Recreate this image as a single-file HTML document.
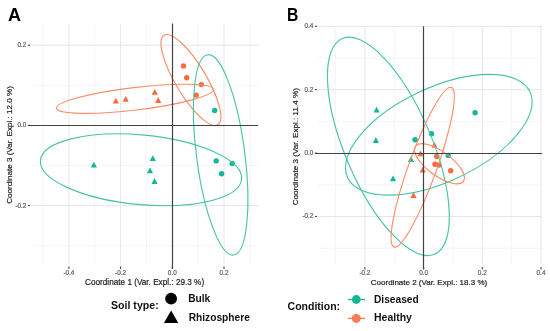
<!DOCTYPE html>
<html><head><meta charset="utf-8"><style>
html,body{margin:0;padding:0;background:#fff;width:550px;height:331px;overflow:hidden}
svg{display:block;filter:blur(0.45px)}
text{font-family:"Liberation Sans",sans-serif}
.tk{font-size:6.4px;fill:#606060;stroke:#606060;stroke-width:0.2px}
.ax{font-size:8.2px;fill:#222;stroke:#222;stroke-width:0.2px}
.pl{font-size:18px;font-weight:bold;fill:#000}
.lg{font-size:10.2px;font-weight:bold;fill:#111}
</style></head><body>
<svg width="550" height="331" viewBox="0 0 550 331">
<line x1="43.05" y1="23.5" x2="43.05" y2="264.5" stroke="#F5F5F5" stroke-width="1"/>
<line x1="94.75" y1="23.5" x2="94.75" y2="264.5" stroke="#F5F5F5" stroke-width="1"/>
<line x1="146.45" y1="23.5" x2="146.45" y2="264.5" stroke="#F5F5F5" stroke-width="1"/>
<line x1="198.15" y1="23.5" x2="198.15" y2="264.5" stroke="#F5F5F5" stroke-width="1"/>
<line x1="249.85" y1="23.5" x2="249.85" y2="264.5" stroke="#F5F5F5" stroke-width="1"/>
<line x1="31" y1="85.30" x2="258" y2="85.30" stroke="#F5F5F5" stroke-width="1"/>
<line x1="31" y1="165.50" x2="258" y2="165.50" stroke="#F5F5F5" stroke-width="1"/>
<line x1="31" y1="245.70" x2="258" y2="245.70" stroke="#F5F5F5" stroke-width="1"/>
<line x1="68.90" y1="23.5" x2="68.90" y2="264.5" stroke="#E6E6E6" stroke-width="1"/>
<line x1="120.60" y1="23.5" x2="120.60" y2="264.5" stroke="#E6E6E6" stroke-width="1"/>
<line x1="224.00" y1="23.5" x2="224.00" y2="264.5" stroke="#E6E6E6" stroke-width="1"/>
<line x1="31" y1="45.20" x2="258" y2="45.20" stroke="#E6E6E6" stroke-width="1"/>
<line x1="31" y1="205.60" x2="258" y2="205.60" stroke="#E6E6E6" stroke-width="1"/>
<line x1="335.55" y1="26.3" x2="335.55" y2="265" stroke="#F5F5F5" stroke-width="1"/>
<line x1="394.25" y1="26.3" x2="394.25" y2="265" stroke="#F5F5F5" stroke-width="1"/>
<line x1="452.95" y1="26.3" x2="452.95" y2="265" stroke="#F5F5F5" stroke-width="1"/>
<line x1="511.65" y1="26.3" x2="511.65" y2="265" stroke="#F5F5F5" stroke-width="1"/>
<line x1="318" y1="58.00" x2="542" y2="58.00" stroke="#F5F5F5" stroke-width="1"/>
<line x1="318" y1="121.40" x2="542" y2="121.40" stroke="#F5F5F5" stroke-width="1"/>
<line x1="318" y1="184.80" x2="542" y2="184.80" stroke="#F5F5F5" stroke-width="1"/>
<line x1="318" y1="248.20" x2="542" y2="248.20" stroke="#F5F5F5" stroke-width="1"/>
<line x1="364.90" y1="26.3" x2="364.90" y2="265" stroke="#E6E6E6" stroke-width="1"/>
<line x1="482.30" y1="26.3" x2="482.30" y2="265" stroke="#E6E6E6" stroke-width="1"/>
<line x1="541.00" y1="26.3" x2="541.00" y2="265" stroke="#E6E6E6" stroke-width="1"/>
<line x1="318" y1="26.30" x2="542" y2="26.30" stroke="#E6E6E6" stroke-width="1"/>
<line x1="318" y1="89.70" x2="542" y2="89.70" stroke="#E6E6E6" stroke-width="1"/>
<line x1="318" y1="216.50" x2="542" y2="216.50" stroke="#E6E6E6" stroke-width="1"/>
<path d="M115.80 97.70L118.90 103.50L112.70 103.50Z" fill="#FA6A3E"/>
<path d="M125.70 95.90L128.80 101.70L122.60 101.70Z" fill="#FA6A3E"/>
<path d="M154.80 88.90L157.90 94.70L151.70 94.70Z" fill="#FA6A3E"/>
<path d="M158.20 97.10L161.30 102.90L155.10 102.90Z" fill="#FA6A3E"/>
<circle cx="183.50" cy="66.00" r="2.7" fill="#FA6A3E"/>
<circle cx="186.70" cy="77.70" r="2.7" fill="#FA6A3E"/>
<circle cx="201.30" cy="84.60" r="2.7" fill="#FA6A3E"/>
<circle cx="196.20" cy="95.10" r="2.7" fill="#FA6A3E"/>
<circle cx="214.70" cy="110.50" r="2.7" fill="#12B894"/>
<circle cx="216.20" cy="160.90" r="2.7" fill="#12B894"/>
<circle cx="232.20" cy="163.50" r="2.7" fill="#12B894"/>
<circle cx="221.60" cy="173.80" r="2.7" fill="#12B894"/>
<path d="M93.90 161.70L97.00 167.50L90.80 167.50Z" fill="#12B894"/>
<path d="M152.80 155.20L155.90 161.00L149.70 161.00Z" fill="#12B894"/>
<path d="M150.00 167.50L153.10 173.30L146.90 173.30Z" fill="#12B894"/>
<path d="M154.50 178.10L157.60 183.90L151.40 183.90Z" fill="#12B894"/>
<circle cx="431.50" cy="133.70" r="2.7" fill="#12B894"/>
<circle cx="415.00" cy="139.80" r="2.7" fill="#12B894"/>
<circle cx="448.20" cy="155.50" r="2.7" fill="#12B894"/>
<circle cx="475.10" cy="112.80" r="2.7" fill="#12B894"/>
<path d="M376.60 106.80L379.70 112.60L373.50 112.60Z" fill="#12B894"/>
<path d="M375.90 137.10L379.00 142.90L372.80 142.90Z" fill="#12B894"/>
<path d="M411.00 156.10L414.10 161.90L407.90 161.90Z" fill="#12B894"/>
<path d="M393.00 175.40L396.10 181.20L389.90 181.20Z" fill="#12B894"/>
<circle cx="436.80" cy="156.50" r="2.7" fill="#FA6A3E"/>
<circle cx="435.00" cy="164.30" r="2.7" fill="#FA6A3E"/>
<circle cx="439.00" cy="165.00" r="2.7" fill="#FA6A3E"/>
<circle cx="450.70" cy="170.70" r="2.7" fill="#FA6A3E"/>
<path d="M434.50 141.90L437.60 147.70L431.40 147.70Z" fill="#FA6A3E"/>
<path d="M420.50 150.50L423.60 156.30L417.40 156.30Z" fill="#FA6A3E"/>
<path d="M422.70 166.70L425.80 172.50L419.60 172.50Z" fill="#FA6A3E"/>
<path d="M413.50 192.10L416.60 197.90L410.40 197.90Z" fill="#FA6A3E"/>
<ellipse cx="0" cy="0" rx="11.24" ry="79.04" transform="translate(134.89 98.80) rotate(83.20)" fill="none" stroke="#F98D69" stroke-width="1.15"/>
<ellipse cx="0" cy="0" rx="52.25" ry="15.34" transform="translate(190.91 80.04) rotate(59.05)" fill="none" stroke="#F98D69" stroke-width="1.15"/>
<ellipse cx="0" cy="0" rx="24.17" ry="100.98" transform="translate(220.67 154.89) rotate(-7.39)" fill="none" stroke="#48C4A6" stroke-width="1.15"/>
<ellipse cx="0" cy="0" rx="101.01" ry="34.79" transform="translate(141.02 169.79) rotate(5.36)" fill="none" stroke="#48C4A6" stroke-width="1.15"/>
<ellipse cx="0" cy="0" rx="43.38" ry="117.33" transform="translate(388.38 146.38) rotate(-23.11)" fill="none" stroke="#48C4A6" stroke-width="1.15"/>
<ellipse cx="0" cy="0" rx="100.76" ry="46.91" transform="translate(438.82 134.76) rotate(-25.22)" fill="none" stroke="#48C4A6" stroke-width="1.15"/>
<ellipse cx="0" cy="0" rx="84.76" ry="14.02" transform="translate(422.70 167.16) rotate(-70.21)" fill="none" stroke="#F98D69" stroke-width="1.15"/>
<ellipse cx="0" cy="0" rx="11.96" ry="29.69" transform="translate(439.49 163.79) rotate(-53.72)" fill="none" stroke="#F98D69" stroke-width="1.15"/>
<line x1="68.90" y1="266.5" x2="68.90" y2="268.9" stroke="#444" stroke-width="1.1"/>
<text x="68.90" y="274.9" text-anchor="middle" class="tk">-0.4</text>
<line x1="120.60" y1="266.5" x2="120.60" y2="268.9" stroke="#444" stroke-width="1.1"/>
<text x="120.60" y="274.9" text-anchor="middle" class="tk">-0.2</text>
<line x1="172.30" y1="266.5" x2="172.30" y2="268.9" stroke="#444" stroke-width="1.1"/>
<text x="172.30" y="274.9" text-anchor="middle" class="tk">0.0</text>
<line x1="224.00" y1="266.5" x2="224.00" y2="268.9" stroke="#444" stroke-width="1.1"/>
<text x="224.00" y="274.9" text-anchor="middle" class="tk">0.2</text>
<line x1="27.9" y1="45.20" x2="30.1" y2="45.20" stroke="#444" stroke-width="1.1"/>
<text x="26.4" y="47.10" text-anchor="end" class="tk">0.2</text>
<line x1="27.9" y1="125.40" x2="30.1" y2="125.40" stroke="#444" stroke-width="1.1"/>
<text x="26.4" y="127.30" text-anchor="end" class="tk">0.0</text>
<line x1="27.9" y1="205.60" x2="30.1" y2="205.60" stroke="#444" stroke-width="1.1"/>
<text x="26.4" y="207.50" text-anchor="end" class="tk">-0.2</text>
<line x1="172.5" y1="23.5" x2="172.5" y2="268.7" stroke="#424242" stroke-width="1.2"/>
<line x1="28.1" y1="125.5" x2="258" y2="125.5" stroke="#424242" stroke-width="1.2"/>
<line x1="364.90" y1="267" x2="364.90" y2="269.4" stroke="#444" stroke-width="1.1"/>
<text x="364.90" y="275.4" text-anchor="middle" class="tk">-0.2</text>
<line x1="423.60" y1="267" x2="423.60" y2="269.4" stroke="#444" stroke-width="1.1"/>
<text x="423.60" y="275.4" text-anchor="middle" class="tk">0.0</text>
<line x1="482.30" y1="267" x2="482.30" y2="269.4" stroke="#444" stroke-width="1.1"/>
<text x="482.30" y="275.4" text-anchor="middle" class="tk">0.2</text>
<line x1="541.00" y1="267" x2="541.00" y2="269.4" stroke="#444" stroke-width="1.1"/>
<text x="541.00" y="275.4" text-anchor="middle" class="tk">0.4</text>
<line x1="314.9" y1="26.30" x2="317.1" y2="26.30" stroke="#444" stroke-width="1.1"/>
<text x="313.4" y="28.20" text-anchor="end" class="tk">0.4</text>
<line x1="314.9" y1="89.70" x2="317.1" y2="89.70" stroke="#444" stroke-width="1.1"/>
<text x="313.4" y="91.60" text-anchor="end" class="tk">0.2</text>
<line x1="314.9" y1="153.10" x2="317.1" y2="153.10" stroke="#444" stroke-width="1.1"/>
<text x="313.4" y="155.00" text-anchor="end" class="tk">0.0</text>
<line x1="314.9" y1="216.50" x2="317.1" y2="216.50" stroke="#444" stroke-width="1.1"/>
<text x="313.4" y="218.40" text-anchor="end" class="tk">-0.2</text>
<line x1="423.5" y1="26.3" x2="423.5" y2="269.2" stroke="#424242" stroke-width="1.2"/>
<line x1="315.1" y1="153.5" x2="542" y2="153.5" stroke="#424242" stroke-width="1.2"/>
<text x="144.6" y="284.5" text-anchor="middle" class="ax">Coordinate 1 (Var. Expl.: 29.3 %)</text>
<text x="429" y="284.5" text-anchor="middle" class="ax" style="font-size:8px">Coordinate 2 (Var. Expl.: 18.3 %)</text>
<text transform="translate(11.9 144.9) rotate(-90)" text-anchor="middle" class="ax" style="font-size:8.1px">Coordinate 3 (Var. Expl.: 12.0 %)</text>
<text transform="translate(297.5 146.7) rotate(-90)" text-anchor="middle" class="ax" style="font-size:8.1px">Coordinate 3 (Var. Expl.: 11.4 %)</text>
<text x="8.1" y="21.3" class="pl">A</text>
<text transform="translate(286.9 21.3) scale(0.87 1)" class="pl">B</text>
<text x="111.0" y="308.6" class="lg" style="font-size:10.6px">Soil type:</text>
<circle cx="171.1" cy="298.7" r="5.9" fill="#000"/>
<path d="M171.1 310.4L178.3 323L163.9 323Z" fill="#000"/>
<text x="188.2" y="302.2" class="lg">Bulk</text>
<text x="188.7" y="320.6" class="lg">Rhizosphere</text>
<text x="287.6" y="310" class="lg" style="font-size:10.5px">Condition:</text>
<line x1="348" y1="299.5" x2="365" y2="299.5" stroke="#12B894" stroke-width="1.3"/><circle cx="356.3" cy="299.5" r="4.4" fill="#12B894"/>
<line x1="348" y1="318.4" x2="365" y2="318.4" stroke="#F87C54" stroke-width="1.3"/><circle cx="356.3" cy="318.4" r="4.5" fill="#F87C54"/>
<text x="374.0" y="302.7" class="lg">Diseased</text>
<text x="374.0" y="321.4" class="lg" style="font-size:10.5px">Healthy</text>
</svg>
</body></html>
